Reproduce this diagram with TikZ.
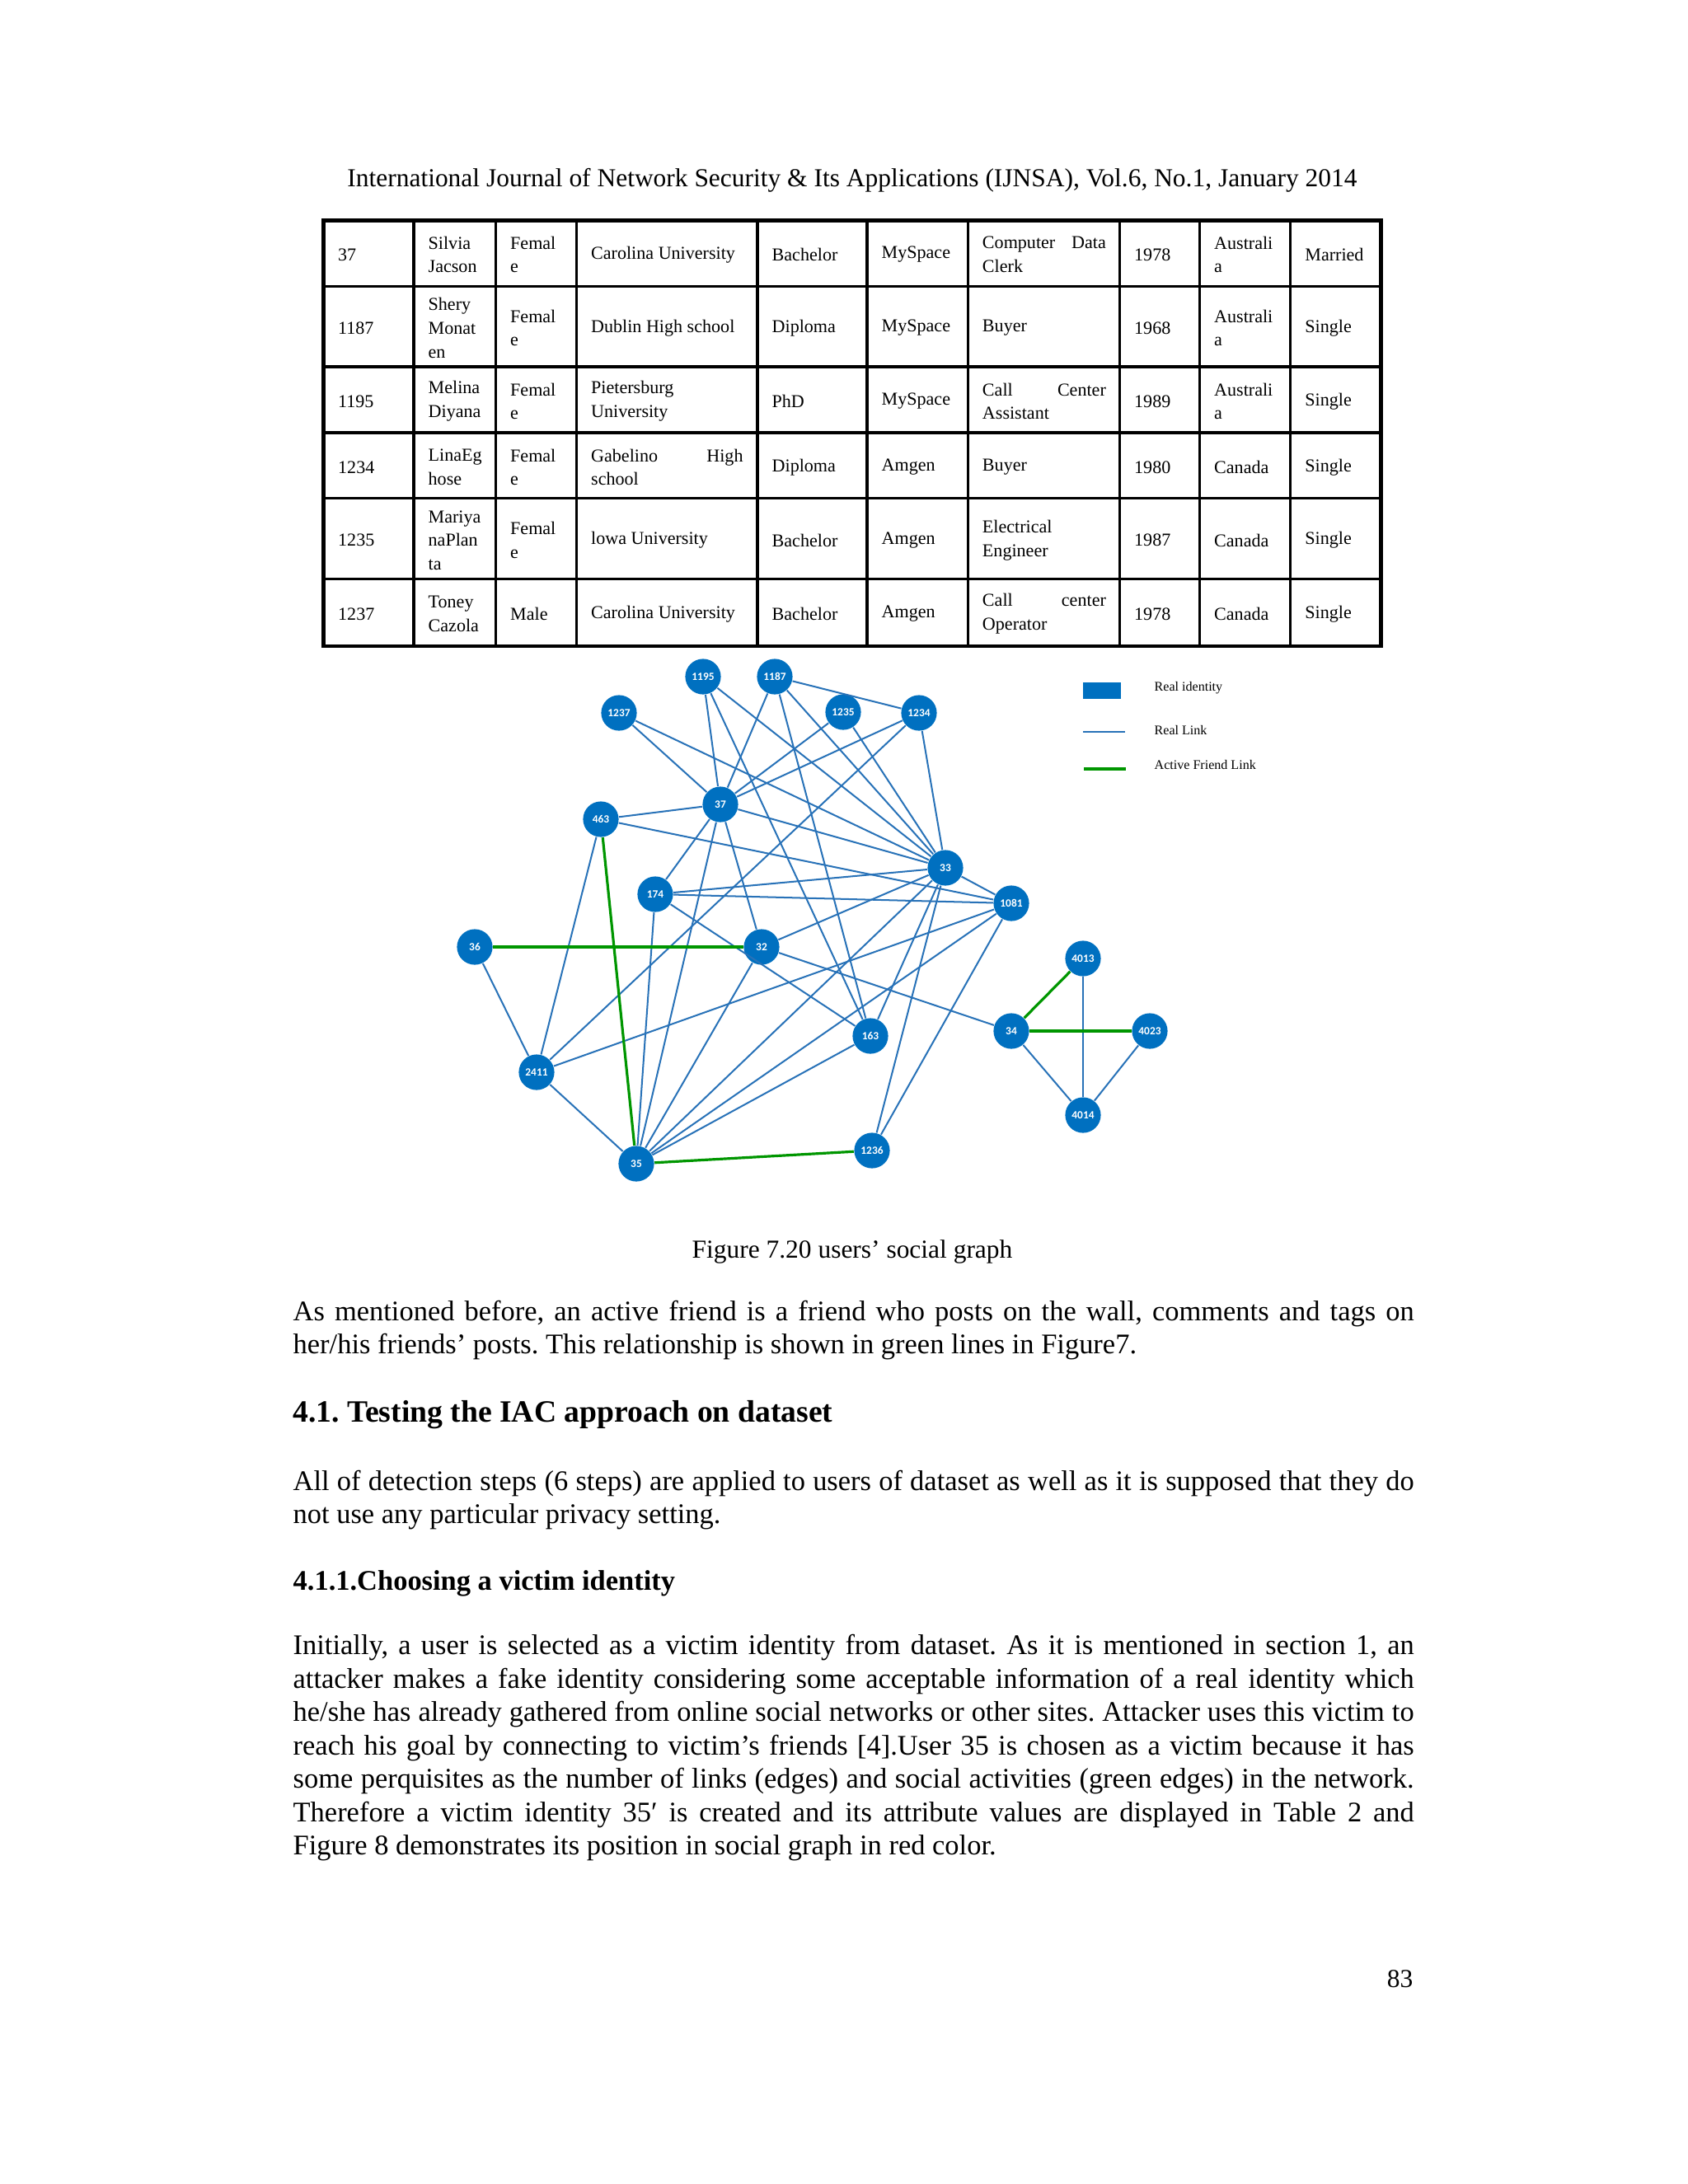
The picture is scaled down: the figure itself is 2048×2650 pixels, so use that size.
\documentclass[tikz,border=0pt]{standalone}
\usepackage{fontspec}
\setmainfont{Liberation Serif}
\newfontfamily\calib{Carlito}
\definecolor{nodeblue}{RGB}{0,112,192}
\definecolor{edgeblue}{RGB}{40,114,184}
\definecolor{fgreen}{RGB}{0,150,0}
\newcommand\smallbody{\fontsize{9.4}{12.13}\selectfont}
\newcommand\bodyfont{\fontsize{10.3}{12.13}\selectfont}
\newcommand\jl[1]{\makebox[406.4pt][s]{#1}}
\frenchspacing
\begin{document}
\begin{tikzpicture}[x=0.29883pt,y=-0.29883pt,
  gnode/.style={circle, fill=nodeblue, draw=none, minimum size=12.9pt, inner sep=0pt, text=white, font=\calib\bfseries\fontsize{4}{4}\selectfont},
  blink/.style={draw=edgeblue, line width=0.6pt},
  glink/.style={draw=fgreen, line width=0.95pt},
  tcell/.style={anchor=west, align=left, inner sep=0pt, font=\fontsize{6.6}{8.58}\selectfont},
  tline/.style={line width=1pt},
  txt/.style={anchor=base west, inner sep=0pt, font=\bodyfont},
  legtxt/.style={anchor=west, inner sep=0pt, font=\fontsize{4.8}{5}\selectfont}]
\useasboundingbox[fill=white] (0,0) rectangle (2048,2650);

% header
\node[anchor=base, inner sep=0pt, font=\smallbody] (hdr) at (1034,226) {International Journal of Network Security \& Its Applications (IJNSA), Vol.6, No.1, January 2014};

% table grid
\foreach \yy in {347.3,445,525,604.3,702.7} \draw[tline] (392.5,\yy) -- (1675.2,\yy);
\foreach \xx in {501.9,601.5,699.5,919,1052,1174.3,1358.5,1455.5,1565.7} \draw[tline] (\xx,267.3) -- (\xx,784);
\draw[line width=1.4pt] (392.5,267.3) rectangle (1675.2,784);

% row 1
\node[tcell] (c11) at (409.5,309) {37};
\node[tcell] (c12) at (519,309) {Silvia\\Jacson};
\node[tcell] (c13) at (618.5,309) {Femal\\e};
\node[tcell] (c14) at (716.5,309) {Carolina University};
\node[tcell] (c15) at (936,309) {Bachelor};
\node[tcell] (c16) at (1069,309) {MySpace};
\node[tcell] (c17) at (1191.3,309) {\makebox[44.8pt][s]{Computer Data}\\Clerk};
\node[tcell] (c18) at (1375.5,309) {1978};
\node[tcell] (c19) at (1472.5,309) {Australi\\a};
\node[tcell] (c110) at (1582.7,309) {Married};
% row 2
\node[tcell] (c21) at (409.5,398) {1187};
\node[tcell] (c22) at (519,398) {Shery\\Monat\\en};
\node[tcell] (c23) at (618.5,398) {Femal\\e};
\node[tcell] (c24) at (716.5,398) {Dublin High school};
\node[tcell] (c25) at (936,398) {Diploma};
\node[tcell] (c26) at (1069,398) {MySpace};
\node[tcell] (c27) at (1191.3,398) {Buyer};
\node[tcell] (c28) at (1375.5,398) {1968};
\node[tcell] (c29) at (1472.5,398) {Australi\\a};
\node[tcell] (c210) at (1582.7,398) {Single};
% row 3
\node[tcell] (c31) at (409.5,487) {1195};
\node[tcell] (c32) at (519,487) {Melina\\Diyana};
\node[tcell] (c33) at (618.5,487) {Femal\\e};
\node[tcell] (c34) at (716.5,487) {Pietersburg\\University};
\node[tcell] (c35) at (936,487) {PhD};
\node[tcell] (c36) at (1069,487) {MySpace};
\node[tcell] (c37) at (1191.3,487) {\makebox[44.8pt][s]{Call Center}\\Assistant};
\node[tcell] (c38) at (1375.5,487) {1989};
\node[tcell] (c39) at (1472.5,487) {Australi\\a};
\node[tcell] (c310) at (1582.7,487) {Single};
% row 4
\node[tcell] (c41) at (409.5,567) {1234};
\node[tcell] (c42) at (519,567) {LinaEg\\hose};
\node[tcell] (c43) at (618.5,567) {Femal\\e};
\node[tcell] (c44) at (716.5,567) {\makebox[55.1pt][s]{Gabelino High}\\school};
\node[tcell] (c45) at (936,567) {Diploma};
\node[tcell] (c46) at (1069,567) {Amgen};
\node[tcell] (c47) at (1191.3,567) {Buyer};
\node[tcell] (c48) at (1375.5,567) {1980};
\node[tcell] (c49) at (1472.5,567) {Canada};
\node[tcell] (c410) at (1582.7,567) {Single};
% row 5
\node[tcell] (c51) at (409.5,655.5) {1235};
\node[tcell] (c52) at (519,655.5) {Mariya\\naPlan\\ta};
\node[tcell] (c53) at (618.5,655.5) {Femal\\e};
\node[tcell] (c54) at (716.5,655.5) {lowa University};
\node[tcell] (c55) at (936,655.5) {Bachelor};
\node[tcell] (c56) at (1069,655.5) {Amgen};
\node[tcell] (c57) at (1191.3,655.5) {Electrical\\Engineer};
\node[tcell] (c58) at (1375.5,655.5) {1987};
\node[tcell] (c59) at (1472.5,655.5) {Canada};
\node[tcell] (c510) at (1582.7,655.5) {Single};
% row 6
\node[tcell] (c61) at (409.5,745) {1237};
\node[tcell] (c62) at (519,745) {Toney\\Cazola};
\node[tcell] (c63) at (618.5,745) {Male};
\node[tcell] (c64) at (716.5,745) {Carolina University};
\node[tcell] (c65) at (936,745) {Bachelor};
\node[tcell] (c66) at (1069,745) {Amgen};
\node[tcell] (c67) at (1191.3,745) {\makebox[44.8pt][s]{Call center}\\Operator};
\node[tcell] (c68) at (1375.5,745) {1978};
\node[tcell] (c69) at (1472.5,745) {Canada};
\node[tcell] (c610) at (1582.7,745) {Single};

% graph nodes
\node[gnode] (n1195) at (853,821) {1195};
\node[gnode] (n1187) at (940,821) {1187};
\node[gnode] (n1237) at (751,865) {1237};
\node[gnode] (n1235) at (1023,864) {1235};
\node[gnode] (n1234) at (1115,865) {1234};
\node[gnode] (n37) at (874,976) {37};
\node[gnode] (n463) at (729,994) {463};
\node[gnode] (n174) at (795,1085) {174};
\node[gnode] (n33) at (1147,1053) {33};
\node[gnode] (n1081) at (1227,1096) {1081};
\node[gnode] (n36) at (576,1149) {36};
\node[gnode] (n32) at (924,1149) {32};
\node[gnode] (n163) at (1056,1257) {163};
\node[gnode] (n2411) at (651,1301) {2411};
\node[gnode] (n35) at (772,1412) {35};
\node[gnode] (n1236) at (1058,1396) {1236};
\node[gnode] (n4013) at (1314,1163) {4013};
\node[gnode] (n34) at (1227,1251) {34};
\node[gnode] (n4023) at (1395,1251) {4023};
\node[gnode] (n4014) at (1314,1353) {4014};

% blue links
\foreach \a/\b in {1187/1234, 1237/37, 1237/33, 1195/37, 1195/163, 1195/33,
  1187/37, 1187/163, 1187/33, 1235/37, 1235/33, 1234/37, 1234/33, 1234/2411,
  37/463, 37/174, 37/33, 37/32, 37/35, 463/1081, 463/2411,
  174/33, 174/1081, 174/163, 174/35, 36/2411, 32/33, 32/34, 32/35,
  2411/1081, 2411/35, 163/33, 163/35, 33/1081, 33/35, 33/1236,
  1081/35, 1081/1236, 34/4014, 4013/4014, 4023/4014}
  \draw[blink] (n\a) -- (n\b);
% green links
\foreach \a/\b in {463/35, 36/32, 35/1236, 34/4013, 34/4023}
  \draw[glink] (n\a) -- (n\b);

% legend
\node[fill=nodeblue, draw=none, minimum width=13.75pt, minimum height=6pt, inner sep=0pt] (legbox) at (1337,838) {};
\coordinate (rl1) at (1314,888);
\coordinate (rl2) at (1365,888);
\coordinate (gl1) at (1315,933);
\coordinate (gl2) at (1366,933);
\draw[blink] (rl1) -- (rl2);
\draw[glink] (gl1) -- (gl2);
\node[legtxt] (lt1) at (1400,835) {Real identity};
\node[legtxt] (lt2) at (1400,886) {Real Link};
\node[legtxt] (lt3) at (1400,928) {Active Friend Link};

% caption
\node[anchor=base, inner sep=0pt, font=\smallbody] (cap) at (1034,1526) {Figure 7.20 users’ social graph};

% body text
\node[txt] (b1) at (355,1602) {\jl{As mentioned before, an active friend is a friend who posts on the wall, comments and tags on}};
\node[txt] (b2) at (355,1642) {her/his friends’ posts. This relationship is shown in green lines in Figure7.};
\node[anchor=base west, inner sep=0pt, font=\fontsize{11.25}{13}\selectfont\bfseries] (h1) at (355,1725) {4.1. Testing the IAC approach on dataset};
\node[txt] (b3) at (355,1808) {\jl{All of detection steps (6 steps) are applied to users of dataset as well as it is supposed that they do}};
\node[txt] (b4) at (355,1848) {not use any particular privacy setting.};
\node[anchor=base west, inner sep=0pt, font=\fontsize{10.3}{12}\selectfont\bfseries] (h2) at (355,1929) {4.1.1.Choosing a victim identity};
\node[txt] (p1) at (355,2007) {\jl{Initially, a user is selected as a victim identity from dataset. As it is mentioned in section 1, an}};
\node[txt] (p2) at (355,2048) {\jl{attacker makes a fake identity considering some acceptable information of a real identity which}};
\node[txt] (p3) at (355,2088) {\jl{he/she has already gathered from online social networks or other sites. Attacker uses this victim to}};
\node[txt] (p4) at (355,2129) {\jl{reach his goal by connecting to victim’s friends [4].User 35 is chosen as a victim because it has}};
\node[txt] (p5) at (355,2169) {\jl{some perquisites as the number of links (edges) and social activities (green edges) in the network.}};
\node[txt] (p6) at (355,2210) {\jl{Therefore a victim identity 35′ is created and its attribute values are displayed in Table 2 and}};
\node[txt] (p7) at (355,2250) {Figure 8 demonstrates its position in social graph in red color.};
\node[anchor=base east, inner sep=0pt, font=\smallbody] (pn) at (1715,2411) {83};
\end{tikzpicture}
\end{document}
